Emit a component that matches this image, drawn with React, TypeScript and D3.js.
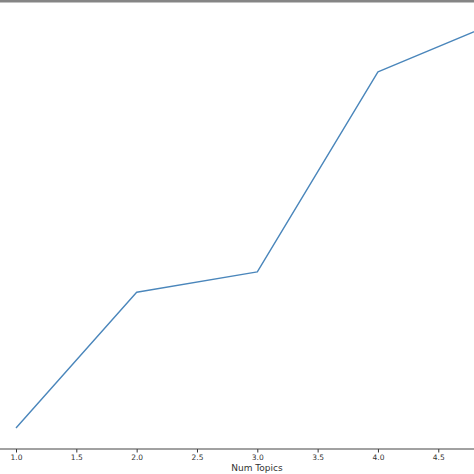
import * as d3 from "d3";
import { useEffect, useRef } from "react";

// number of topics vs. score (y axis is cropped out of the picture)
const numTopics = [1, 2, 3, 4, 5];
const scores = [0.0, 0.334, 0.384, 0.876, 1.0];
const xTicks = [1.0, 1.5, 2.0, 2.5, 3.0, 3.5, 4.0, 4.5];

function Chart() {
    const ref = useRef(null);
    const width = 474;
    const height = 474;

    useEffect(() => {
        const svg = d3.select(ref.current);
        svg.selectAll("*").remove();

        svg.append("rect")
            .attr("width", width)
            .attr("height", height)
            .attr("fill", "#fff");

        // grey strip along the top edge
        svg.append("rect")
            .attr("x", 0).attr("y", 0)
            .attr("width", width).attr("height", 2.5)
            .attr("fill", "#858585");

        const x = d3.scaleLinear().domain([1, 5]).range([16, 498.6]);
        const y = d3.scaleLinear().domain([0, 1]).range([428, 21.4]);
        const axisY = 449;

        const line = d3.line<number>()
            .x((_, i) => x(numTopics[i]))
            .y(d => y(d));

        svg.append("path")
            .datum(scores)
            .attr("d", line)
            .attr("fill", "none")
            .attr("stroke", "#4a86bb")
            .attr("stroke-width", 1.4)
            .attr("stroke-linejoin", "round");

        const axis = svg.append("g")
            .attr("transform", `translate(0,${axisY})`)
            .call(d3.axisBottom(x)
                .tickValues(xTicks)
                .tickFormat(d3.format(".1f"))
                .tickSize(3.5)
                .tickPadding(2.5));
        axis.select(".domain").remove();
        axis.selectAll(".tick line").attr("stroke", "#333");
        axis.selectAll(".tick text")
            .attr("fill", "#333")
            .attr("font-family", "DejaVu Sans")
            .attr("font-size", 7.5);

        svg.append("line")
            .attr("x1", 0).attr("x2", width)
            .attr("y1", axisY).attr("y2", axisY)
            .attr("stroke", "#444")
            .attr("stroke-width", 1);

        svg.append("text")
            .attr("x", 257)
            .attr("y", 470.5)
            .attr("text-anchor", "middle")
            .attr("font-family", "DejaVu Sans")
            .attr("font-size", 9)
            .attr("fill", "#333")
            .text("Num Topics");
    }, []);

    return <svg width={width} height={height} ref={ref} style={{ display: "block" }} />;
}

export default function App() {
    useEffect(() => {
        document.body.style.margin = "0";
        document.body.style.overflow = "hidden";
    }, []);
    return <Chart />;
}
